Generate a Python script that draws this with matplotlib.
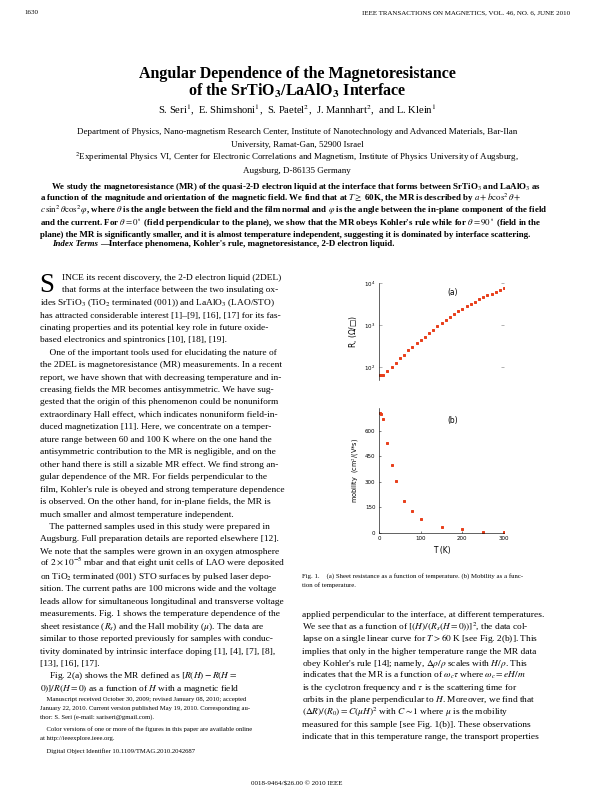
import matplotlib
matplotlib.use("Agg")
import matplotlib.pyplot as plt
from matplotlib.ticker import FixedLocator, NullLocator

# ---- data ----
T_rs = [2, 4, 8, 10, 20, 30, 40, 50, 60, 70, 80, 90, 100, 110, 120, 130, 140, 150, 160,
        170, 180, 190, 200, 210, 220, 230, 240, 250, 260, 270, 280, 290, 300]
R_s = [65, 65, 67, 67, 81, 104, 130, 164, 200, 251, 305, 371, 451, 538, 653, 780, 932,
       1110, 1330, 1585, 1860, 2140, 2460, 2840, 3220, 3640, 4120, 4580, 5100, 5570,
       6100, 6770, 7410]
T_mu = [2, 5, 10, 20, 30, 40, 60, 80, 100, 150, 200, 250, 300]
mu = [705, 699, 669, 530, 398, 305, 191, 128, 85, 33, 22, 4, 4]
mu_ticks = [0, 150, 300, 450, 600]
T_ticks = [0, 100, 200, 300]

plt.rcParams['font.family'] = ['Liberation Serif', 'DejaVu Serif']
plt.rcParams['mathtext.fontset'] = 'stix'
W, H = 594, 792
fig = plt.figure(figsize=(W / 72, H / 72), dpi=72)

def T(x, y, s, size=9, **kw):
    return fig.text(x / W, 1 - y / H, s, fontsize=size, va='baseline', **kw)

# header
T(24, 14, "1630", 7)
T(570, 14, "IEEE TRANSACTIONS ON MAGNETICS, VOL. 46, NO. 6, JUNE 2010", 7, ha='right')
T(297, 78, "Angular Dependence of the Magnetoresistance", 16, ha='center', weight='bold')
T(297, 96, r"of the SrTiO$_\mathbf{3}$/LaAlO$_\mathbf{3}$ Interface", 16, ha='center', weight='bold')
T(297, 114, r"S. Seri$^1$,  E. Shimshoni$^1$,  S. Paetel$^2$,  J. Mannhart$^2$,  and L. Klein$^1$", 10.5, ha='center')
T(297, 134, "Department of Physics, Nano-magnetism Research Center, Institute of Nanotechnology and Advanced Materials, Bar-Ilan", 9, ha='center')
T(297, 147, "University, Ramat-Gan, 52900 Israel", 9, ha='center')
T(297, 160, r"$^2$Experimental Physics VI, Center for Electronic Correlations and Magnetism, Institute of Physics University of Augsburg,", 9, ha='center')
T(297, 173, "Augsburg, D-86135 Germany", 9, ha='center')

abstract = [
    r"     We study the magnetoresistance (MR) of the quasi-2-D electron liquid at the interface that forms between SrTiO$_3$ and LaAlO$_3$ as",
    r"a function of the magnitude and orientation of the magnetic field. We find that at $T\geq$ 60K, the MR is described by $a+b\cos^2\theta+$",
    r"$c\,\sin^2\theta\cos^2\varphi$, where $\theta$ is the angle between the field and the film normal and $\varphi$ is the angle between the in-plane component of the field",
    r"and the current. For $\theta=0^\circ$ (field perpendicular to the plane), we show that the MR obeys Kohler's rule while for $\theta=90^\circ$ (field in the",
    r"plane) the MR is significantly smaller, and it is almost temperature independent, suggesting it is dominated by interface scattering.",
]
for i, s in enumerate(abstract):
    T(40, 189 + 12 * i, s, 8.9, weight='bold')
T(52, 246, "Index Terms", 8.9, style='italic', weight='bold')
T(100, 246, "\u2014Interface phenomena, Kohler's rule, magnetoresistance, 2-D electron liquid.", 8.9, weight='bold')

left = [
    r"ides SrTiO$_3$ (TiO$_2$ terminated (001)) and LaAlO$_3$ (LAO/STO)",
    "has attracted considerable interest [1]\u2013[9], [16], [17] for its fas-",
    "cinating properties and its potential key role in future oxide-",
    "based electronics and spintronics [10], [18], [19].",
    "    One of the important tools used for elucidating the nature of",
    "the 2DEL is magnetoresistance (MR) measurements. In a recent",
    "report, we have shown that with decreasing temperature and in-",
    "creasing fields the MR becomes antisymmetric. We have sug-",
    "gested that the origin of this phenomenon could be nonuniform",
    "extraordinary Hall effect, which indicates nonuniform field-in-",
    "duced magnetization [11]. Here, we concentrate on a temper-",
    "ature range between 60 and 100 K where on the one hand the",
    "antisymmetric contribution to the MR is negligible, and on the",
    "other hand there is still a sizable MR effect. We find strong an-",
    "gular dependence of the MR. For fields perpendicular to the",
    "film, Kohler's rule is obeyed and strong temperature dependence",
    "is observed. On the other hand, for in-plane fields, the MR is",
    "much smaller and almost temperature independent.",
    "    The patterned samples used in this study were prepared in",
    "Augsburg. Full preparation details are reported elsewhere [12].",
    "We note that the samples were grown in an oxygen atmosphere",
    r"of $2\times10^{-5}$ mbar and that eight unit cells of LAO were deposited",
    r"on TiO$_2$ terminated (001) STO surfaces by pulsed laser depo-",
    "sition. The current paths are 100 microns wide and the voltage",
    "leads allow for simultaneous longitudinal and transverse voltage",
    "measurements. Fig. 1 shows the temperature dependence of the",
    r"sheet resistance ($R_s$) and the Hall mobility ($\mu$). The data are",
    "similar to those reported previously for samples with conduc-",
    "tivity dominated by intrinsic interface doping [1], [4], [7], [8],",
    "[13], [16], [17].",
    r"    Fig. 2(a) shows the MR defined as $[R(H)-R(H=$",
    r"$0)]/R(H=0)$ as a function of $H$ with a magnetic field",
]
for i, s in enumerate(left):
    T(40, 280 + 12.45 * (i + 2), s, 9.4)
T(62, 280, "INCE its recent discovery, the 2-D electron liquid (2DEL)", 9.4)
T(62, 292.45, "that forms at the interface between the two insulating ox-", 9.4)
T(39, 292, "S", 27)

foot = [
    (701, "    Manuscript received October 30, 2009; revised January 08, 2010; accepted"),
    (710, "January 22, 2010. Current version published May 19, 2010. Corresponding au-"),
    (719, "thor: S. Seri (e-mail: sariseri@gmail.com)."),
    (731, "    Color versions of one or more of the figures in this paper are available online"),
    (740, "at http://ieeexplore.ieee.org."),
    (753, "    Digital Object Identifier 10.1109/TMAG.2010.2042687"),
]
for y, s in foot:
    T(40, y, s, 6.6)

right = [
    "applied perpendicular to the interface, at different temperatures.",
    r"We see that as a function of $[(H)/(R_s(H=0))]^2$, the data col-",
    r"lapse on a single linear curve for $T>60$ K [see Fig. 2(b)]. This",
    "implies that only in the higher temperature range the MR data",
    r"obey Kohler's rule [14]; namely, $\Delta\rho/\rho$ scales with $H/\rho$. This",
    r"indicates that the MR is a function of $\omega_c\tau$ where $\omega_c=eH/m$",
    r"is the cyclotron frequency and $\tau$ is the scattering time for",
    r"orbits in the plane perpendicular to $H$. Moreover, we find that",
    r"$(\Delta R)/(R_0)=C(\mu H)^2$ with $C\sim1$ where $\mu$ is the mobility",
    "measured for this sample [see Fig. 1(b)]. These observations",
    "indicate that in this temperature range, the transport properties",
]
for i, s in enumerate(right):
    T(302, 617 + 12.2 * i, s, 9.4)
T(302, 578, "Fig. 1.    (a) Sheet resistance as a function of temperature. (b) Mobility as a func-", 6.8)
T(302, 587, "tion of temperature.", 6.8)
T(297, 786, "0018-9464/$26.00 \u00a9 2010 IEEE", 7, ha='center')

# ---- chart ----
red = '#e8401c'
x0, x1 = 379, 504
ax1 = fig.add_axes([x0 / W, 1 - 380 / H, (x1 - x0) / W, (380 - 283) / H])
ax1.semilogy(T_rs, R_s, 's', ms=2.3, color=red, mec=red)
ax1.set_xlim(0, 300)
ax1.set_ylim(10 ** 1.7, 10 ** 4.0)
for sp in ['top', 'bottom', 'right']:
    ax1.spines[sp].set_visible(False)
ax1.spines['left'].set_linewidth(0.6)
ax1.set_xticks([])
ax1.yaxis.set_major_locator(FixedLocator([100, 1000, 10000]))
ax1.yaxis.set_minor_locator(NullLocator())
ax1.tick_params(axis='y', labelsize=5.5, length=3, width=0.5, direction='in', right=True,
                colors='#666666', labelcolor='k')
ax1.set_ylabel("R$_s$ (\u03a9/\u25a1)", fontsize=7.5, family='DejaVu Sans')
ax1.text(0.55, 0.88, "(a)", transform=ax1.transAxes, fontsize=7.5, family='DejaVu Sans')

ax2 = fig.add_axes([x0 / W, 1 - 533 / H, (x1 - x0) / W, (533 - 408) / H])
ax2.plot(T_mu, mu, 's', ms=2.3, color=red, mec=red)
ax2.set_xlim(0, 300)
ax2.set_ylim(0, 735)
for sp in ['top', 'right']:
    ax2.spines[sp].set_visible(False)
for sp in ['left', 'bottom']:
    ax2.spines[sp].set_linewidth(0.6)
ax2.set_yticks(mu_ticks)
ax2.set_xticks(T_ticks)
ax2.tick_params(labelsize=5.5, length=2, width=0.5, direction='in')
ax2.set_ylabel(r"mobility  (cm$^2$/(V*s)", fontsize=6.5, family='DejaVu Sans')
ax2.set_xlabel("T (K)", fontsize=7.5, family='DejaVu Sans', labelpad=4)
ax2.text(0.55, 0.88, "(b)", transform=ax2.transAxes, fontsize=7.5, family='DejaVu Sans')
for a in (ax1, ax2):
    for lbl in a.get_xticklabels() + a.get_yticklabels():
        lbl.set_family('DejaVu Sans')

fig.savefig("out.png", dpi=72)
